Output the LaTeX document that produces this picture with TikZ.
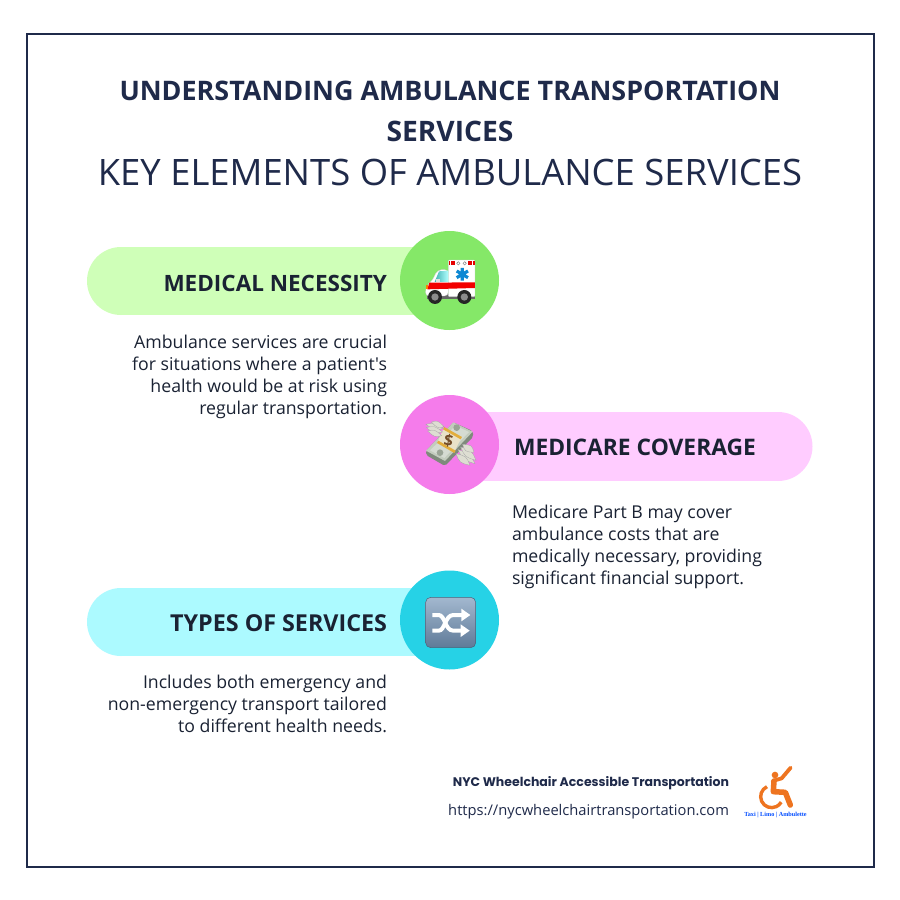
\documentclass[tikz,border=0pt]{standalone}
\usepackage{fontspec}
\usetikzlibrary{calc}
\setmainfont{Open Sans}[Ligatures=TeXOff]
\newfontfamily\popp{Poppins}
\newfontfamily\logofont{Liberation Serif}
\definecolor{navy}{HTML}{1F2A4A}
\definecolor{ink}{HTML}{1A2233}
\definecolor{pillA}{HTML}{CFFFB8}
\definecolor{dotA}{HTML}{85E868}
\definecolor{pillB}{HTML}{FFCCFF}
\definecolor{dotB}{HTML}{F57CEB}
\definecolor{pillC}{HTML}{ACFAFF}
\definecolor{dotC}{HTML}{26D2E6}
\definecolor{logoor}{HTML}{EE7420}
\definecolor{wing}{HTML}{DEDED2}
\definecolor{billdark}{HTML}{7F8A7C}
\definecolor{billtop}{HTML}{C3CCBE}
\definecolor{billband}{HTML}{E3AE3C}
\definecolor{billmid}{HTML}{E9E2C8}
\definecolor{shufftop}{HTML}{A3B8CF}
\definecolor{shuffbot}{HTML}{5F7A98}
\tikzset{
 ttl/.style={text=navy,font=\fontsize{26.9}{27}\selectfont\bfseries,anchor=base},
 sub/.style={text=navy,font=\fontsize{36.4}{37}\selectfont,anchor=base},
 headR/.style={text=ink,font=\fontsize{22.5}{23}\selectfont\bfseries,anchor=base east},
 headL/.style={text=ink,font=\fontsize{22.8}{23}\selectfont\bfseries,anchor=base west},
 bodyR/.style={text=ink,font=\fontsize{17.7}{18}\selectfont,anchor=base east},
 bodyL/.style={text=ink,font=\fontsize{17.7}{18}\selectfont,anchor=base west},
 zoomA/.style={shift={(390,220)},x=0.3333pt,y=-0.3333pt},
 zoomB/.style={shift={(390,385)},x=0.3333pt,y=-0.3333pt},
 zoomC/.style={shift={(390,565)},x=0.3333pt,y=-0.3333pt},
 zoomD/.style={shift={(730,755)},x=0.3333pt,y=-0.3333pt},
 feather/.style={draw=black!35,line width=0.3pt},
}
\begin{document}
\begin{tikzpicture}[x=1pt,y=-1pt,inner sep=0pt,outer sep=0pt]
\useasboundingbox (0,0) rectangle (900,900);
\fill[white] (0,0) rectangle (900,900);
\draw[navy,line width=2pt] (27,34) rectangle (874,867);
% titles
\node[ttl] (t1) at (450,100) {UNDERSTANDING AMBULANCE TRANSPORTATION};
\node[ttl,font=\fontsize{28.2}{28}\selectfont\bfseries] (t2) at (450,141) {SERVICES};
\node[sub] (t3) at (450,185) {KEY ELEMENTS OF AMBULANCE SERVICES};
% pills
\fill[pillA] (121,281) circle[radius=34];
\fill[pillA] (121,247) rectangle (450,315);
\fill[pillB] (778,446.5) circle[radius=34.5];
\fill[pillB] (449,412) rectangle (778,481);
\fill[pillC] (121,622) circle[radius=34];
\fill[pillC] (121,588) rectangle (450,656);
\fill[dotA] (449.5,280.5) circle[radius=49.5];
\fill[dotB] (449.5,444.5) circle[radius=49.5];
\fill[dotC] (449.5,620) circle[radius=49.5];
% headings and body
\node[headR] (h1) at (387,291) {MEDICAL NECESSITY};
\node[bodyR] (b11) at (387,348) {Ambulance services are crucial};
\node[bodyR] (b12) at (387,370) {for situations where a patient's};
\node[bodyR] (b13) at (387,392) {health would be at risk using};
\node[bodyR] (b14) at (387,414) {regular transportation.};
\node[headL] (h2) at (514,455) {MEDICARE COVERAGE};
\node[bodyL] (b21) at (512,518) {Medicare Part B may cover};
\node[bodyL] (b22) at (512,540) {ambulance costs that are};
\node[bodyL] (b23) at (512,562) {medically necessary, providing};
\node[bodyL] (b24) at (512,584) {significant financial support.};
\node[headR,font=\fontsize{23.3}{23}\selectfont\bfseries] (h3) at (387,631) {TYPES OF SERVICES};
\node[bodyR] (b31) at (387,688) {Includes both emergency and};
\node[bodyR] (b32) at (387,710) {non-emergency transport tailored};
\node[bodyR] (b33) at (387,732) {to different health needs.};
% ambulance
\begin{scope}[zoomA]
 \fill[black!60] (110,222) rectangle (255,238);
 \filldraw[fill=white,draw=black!20,line width=0.3pt,rounded corners=1pt] (175,120) rectangle (255,230);
 \filldraw[fill=white,draw=black!20,line width=0.3pt,rounded corners=4pt] (175,148) -- (142,150) -- (125,185) -- (110,195) -- (105,228) -- (175,228) -- cycle;
 \fill[red!90!black] (183,124) rectangle (196,136);
 \fill[red!90!black] (233,124) rectangle (246,136);
 \fill[red!90!black] (177,124) rectangle (180,136);
 \fill[red!90!black] (250,124) rectangle (254,136);
 \filldraw[fill=white,draw=black!55,line width=0.4pt] (205,130) circle[radius=5];
 \filldraw[fill=white,draw=black!55,line width=0.4pt] (224,130) circle[radius=5];
 \shade[left color=cyan!60!black!75,right color=cyan!30!white] (175,152) -- (147,154) -- (134,186) -- (175,186) -- cycle;
 \fill[black!12] (138,176) rectangle (151,186);
 \fill[red!95!black] (118,188) -- (255,187) -- (255,204) -- (112,208) -- cycle;
 \fill[orange] (108,196) rectangle (114,208);
 \draw[line width=3.2pt,cyan!70!blue] (217,144)--(217,182) (200,153)--(234,173) (200,173)--(234,153);
 \fill[black!85] (135,231) circle[radius=21];
 \fill[black!85] (223,231) circle[radius=21];
 \fill[black!45] (135,231) circle[radius=11];
 \fill[black!45] (223,231) circle[radius=11];
\end{scope}
% flying money
\begin{scope}[zoomB]
 \fill[billdark,rounded corners=2pt] (108,197) -- (108,210) -- (165,243) -- (250,155) -- (248,138) -- (190,112) -- cycle;
 \fill[billtop] (190,112) -- (248,140) -- (165,228) -- (108,197) -- cycle;
 \fill[billtop!70!white] (197,122) -- (237,141) -- (163,219) -- (120,196) -- cycle;
 \fill[billdark!60!billtop] (200,128) circle[radius=10];
 \fill[billdark!60!billtop] (150,203) circle[radius=10];
 \fill[billmid] (161,130) -- (213,160) -- (193,200) -- (143,170) -- cycle;
 \fill[billband] (163,126) -- (216,156) -- (212,163) -- (159,133) -- cycle;
 \fill[billband] (145,167) -- (197,197) -- (193,204) -- (141,174) -- cycle;
 \node[text=brown!60!black,font=\fontsize{16}{16}\selectfont\bfseries,rotate=-10] (moneysign) at (176,166) {\$};
 % wings
 \foreach \a/\b/\c/\d in {108/118/160/130, 109/128/158/141, 113/138/155/152, 124/111/162/125}{
  \fill[wing,feather] (\a,\b) .. controls ($(\a,\b)!0.5!(\c,\d)+(0,-12)$) .. (\c,\d) .. controls ($(\a,\b)!0.5!(\c,\d)+(0,12)$) .. cycle;
 }
 \foreach \a/\b/\c/\d in {204/194/255/236, 212/186/258/226, 198/206/240/241, 218/178/252/202}{
  \fill[wing,feather] (\a,\b) .. controls ($(\a,\b)!0.5!(\c,\d)+(10,-10)$) .. (\c,\d) .. controls ($(\a,\b)!0.5!(\c,\d)+(-10,10)$) .. cycle;
 }
\end{scope}
% shuffle
\begin{scope}[zoomC]
 \shade[top color=shufftop,bottom color=shuffbot,draw=shuffbot!80!black,rounded corners=5pt,line width=0.5pt] (107,97) rectangle (257,248);
 \draw[white,line width=4pt] (127,150) -- (146,150) .. controls (165,150) and (165,197) .. (190,197) -- (216,197);
 \draw[white,line width=4pt] (127,197) -- (146,197) .. controls (165,197) and (165,150) .. (190,150) -- (216,150);
 \fill[white] (214,131) -- (241,150) -- (214,169) -- cycle;
 \fill[white] (212,178) -- (239,197) -- (212,216) -- cycle;
\end{scope}
% footer
\node[anchor=base east,text=navy,font=\popp\fontsize{12.5}{13}\selectfont\bfseries] (f1) at (729,786) {NYC Wheelchair Accessible Transportation};
\node[anchor=base east,text=navy,font=\fontsize{14.7}{15}\selectfont] (f2) at (729,815) {https://nycwheelchairtransportation.com};
% logo
\begin{scope}[zoomD]
 \draw[logoor,line width=3.4pt] (111,95) arc[start angle=-115,end angle=-330,radius=33];
 \fill[logoor] (135,60) circle[radius=10];
 \draw[logoor,line width=3.8pt,line cap=round,line join=round] (128,78) -- (155,70) -- (182,38);
 \draw[logoor,line width=5.5pt,line cap=round,line join=round] (132,78) -- (130,110) -- (166,112) -- (181,150);
\end{scope}
\node[anchor=base,text=blue!70!cyan,font=\logofont\fontsize{6.2}{7}\selectfont\bfseries] (f3) at (775.5,816.5) {Taxi | Limo | Ambulette};
\end{tikzpicture}
\end{document}
